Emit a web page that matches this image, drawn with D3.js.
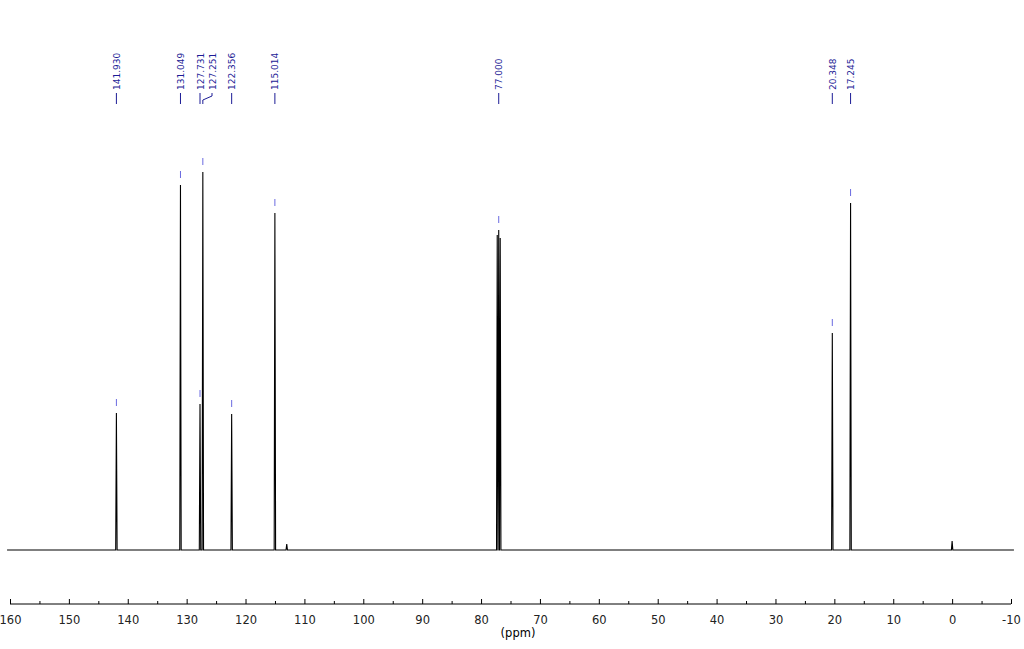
<!DOCTYPE html>
<html><head><meta charset="utf-8">
<script src="https://cdn.jsdelivr.net/npm/d3@7"></script>
<style>body{margin:0;background:#fff}svg{display:block}</style>
</head><body>
<svg id="chart" width="1024" height="649"></svg>
<script>
// peak positions (ppm) and heights (arbitrary intensity)
const peakPpm = [141.930, 131.049, 127.731, 127.251, 122.356, 115.014, 113.0, 77.254, 77.000, 76.746, 20.348, 17.245, 0.0];
const peakHeight = [137, 365, 146, 378, 136, 337, 6, 315, 320, 312, 217, 347, 9];
const labelPpm = [141.930, 131.049, 127.731, 127.251, 122.356, 115.014, 77.000, 20.348, 17.245];
const markPpm = [141.930, 131.049, 127.731, 127.251, 122.356, 115.014, 77.000, 20.348, 17.245];
const tickValues = [160, 150, 140, 130, 120, 110, 100, 90, 80, 70, 60, 50, 40, 30, 20, 10, 0, -10];

const svg = d3.select("#chart");
const x = d3.scaleLinear().domain([160, -10]).range([10, 1011]);
const y = d3.scaleLinear().domain([0, 400]).range([550, 150]);

// spectrum as sticks on a baseline
let pts = [[160.5, 0]];
const order = d3.range(peakPpm.length).sort((a, b) => peakPpm[b] - peakPpm[a]);
order.forEach(i => {
  pts.push([peakPpm[i] + 0.12, 0], [peakPpm[i], peakHeight[i]], [peakPpm[i] - 0.12, 0]);
});
pts.push([-10.5, 0]);
svg.append("path")
  .attr("d", d3.line().x(d => x(d[0])).y(d => y(d[1]))(pts))
  .attr("fill", "none").attr("stroke", "#000").attr("stroke-width", 1.1);

// blue marks above picked peaks
markPpm.forEach(p => {
  const i = peakPpm.indexOf(p);
  const top = y(peakHeight[i]);
  svg.append("line").attr("x1", x(p)).attr("x2", x(p))
    .attr("y1", top - 14).attr("y2", top - 7)
    .attr("stroke", "#6a6ae0").attr("stroke-width", 1);
});

// labels, spread to avoid overlap
let lx = labelPpm.map(p => x(p));
for (let k = 1; k < lx.length; k++) if (lx[k] - lx[k - 1] < 12) lx[k] = lx[k - 1] + 12;
for (let k = lx.length - 2; k >= 0; k--) if (lx[k + 1] - lx[k] < 12) lx[k] = lx[k + 1] - 12;
const blue = "#1c1c96";
labelPpm.forEach((p, k) => {
  const px = x(p);
  svg.append("text").attr("transform", `translate(${lx[k] + 3.5},90) rotate(-90)`)
    .attr("font-family", "DejaVu Sans, Verdana, sans-serif").attr("font-size", 9)
    .attr("fill", blue).text(p.toFixed(3));
  svg.append("path")
    .attr("d", `M${lx[k]},93 L${lx[k]},96 L${px},100 L${px},104`)
    .attr("fill", "none").attr("stroke", blue).attr("stroke-width", 1);
});

// axis
const ax = svg.append("g").attr("transform", "translate(0,604)")
  .call(d3.axisBottom(x).tickValues(d3.range(160, -11, -5)).tickSize(4)
    .tickFormat(d => tickValues.includes(d) ? d : ""));
ax.select(".domain").attr("d", "M10,0H1011").attr("stroke", "#000");
ax.selectAll(".tick line").attr("y1", 0).attr("y2", d => tickValues.includes(d) ? -5 : -3).attr("stroke", "#000");
ax.selectAll(".tick text").attr("y", 12).attr("dy", "0.71em")
  .attr("font-family", "DejaVu Sans, Verdana, sans-serif").attr("font-size", 11.5).attr("fill", "#222");
svg.append("text").attr("x", 518).attr("y", 637).attr("text-anchor", "middle")
  .attr("font-family", "DejaVu Sans, Verdana, sans-serif").attr("font-size", 11.5).text("(ppm)");
</script>
</body></html>
